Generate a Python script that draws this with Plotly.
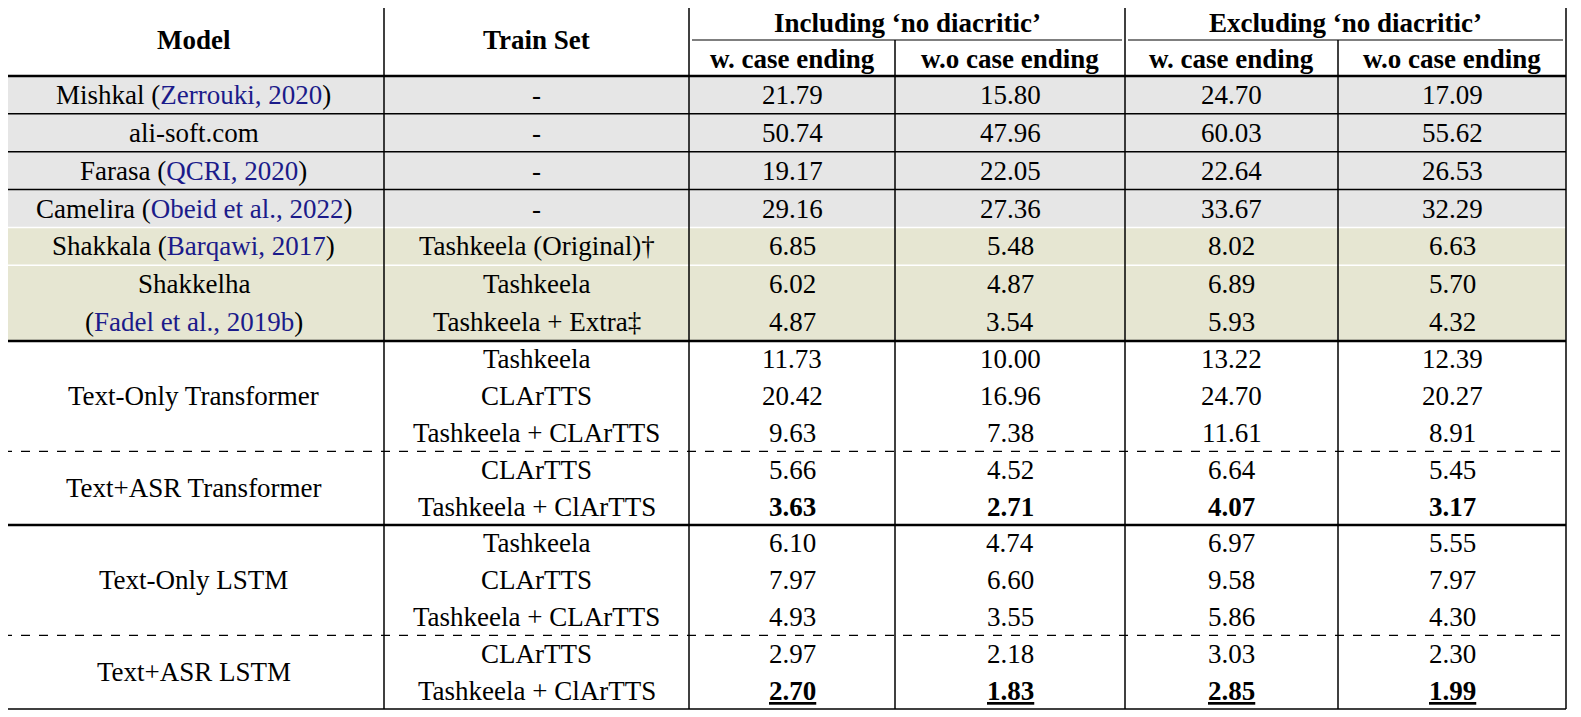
import plotly.graph_objects as go

# table content
train_sets = ["-", "-", "-", "-", "Tashkeela (Original)†", "Tashkeela", "Tashkeela + Extra‡",
              "Tashkeela", "CLArTTS", "Tashkeela + CLArTTS",
              "CLArTTS", "Tashkeela + ClArTTS",
              "Tashkeela", "CLArTTS", "Tashkeela + CLArTTS",
              "CLArTTS", "Tashkeela + ClArTTS"]
inc_case = ["21.79", "50.74", "19.17", "29.16", "6.85", "6.02", "4.87", "11.73", "20.42", "9.63",
            "5.66", "3.63", "6.10", "7.97", "4.93", "2.97", "2.70"]
inc_nocase = ["15.80", "47.96", "22.05", "27.36", "5.48", "4.87", "3.54", "10.00", "16.96", "7.38",
              "4.52", "2.71", "4.74", "6.60", "3.55", "2.18", "1.83"]
exc_case = ["24.70", "60.03", "22.64", "33.67", "8.02", "6.89", "5.93", "13.22", "24.70", "11.61",
            "6.64", "4.07", "6.97", "9.58", "5.86", "3.03", "2.85"]
exc_nocase = ["17.09", "55.62", "26.53", "32.29", "6.63", "5.70", "4.32", "12.39", "20.27", "8.91",
              "5.45", "3.17", "5.55", "7.97", "4.30", "2.30", "1.99"]
bold_rows = [11, 16]
under_rows = [16]

LINK = "#1b1b8a"
def cite(name, ref):
    return f"{name} (<span style='color:{LINK}'>{ref}</span>)"

# model label, first row, last row
models = [
    (cite("Mishkal", "Zerrouki, 2020"), 0, 0),
    ("ali-soft.com", 1, 1),
    (cite("Farasa", "QCRI, 2020"), 2, 2),
    (cite("Camelira", "Obeid et al., 2022"), 3, 3),
    (cite("Shakkala", "Barqawi, 2017"), 4, 4),
    ("Shakkelha", 5, 5),
    (f"(<span style='color:{LINK}'>Fadel et al., 2019b</span>)", 6, 6),
    ("Text-Only Transformer", 7, 9),
    ("Text+ASR Transformer", 10, 11),
    ("Text-Only LSTM", 12, 14),
    ("Text+ASR LSTM", 15, 16),
]

# geometry (page offsets the plot by ~8px, so the axis range starts at 8)
OFF = 8
xs = [3, 384, 689, 895, 1125, 1338, 1566]
top, mid, hdr = 3, 40, 76
split = 341
bottom = 709
up_h = (split - hdr) / 7
lo_h = (bottom - split) / 10

def row_top(i):
    return hdr + i * up_h if i < 7 else split + (i - 7) * lo_h

def row_bot(i):
    if i == 6:
        return split
    if i == 16:
        return bottom
    return row_top(i + 1)

FONT = dict(family="Liberation Serif", size=27, color="black")
shapes, ann = [], []

def text(x, y, s, bold=False, under=False):
    f = dict(FONT)
    if under:
        f["lineposition"] = "under"
    ann.append(dict(x=x, y=y, text=f"<b>{s}</b>" if bold else s, showarrow=False,
                    xref="x", yref="y", font=f, xanchor="center", yanchor="middle"))

def line(x0, y0, x1, y1, w=1.2, dash="solid", color="black"):
    shapes.append(dict(type="line", x0=x0, y0=y0, x1=x1, y1=y1, xref="x", yref="y",
                       line=dict(color=color, width=w, dash=dash)))

# backgrounds
shapes.append(dict(type="rect", x0=xs[0], x1=xs[-1], y0=hdr, y1=row_top(4), fillcolor="#e6e6e6",
                   line_width=0, layer="below"))
shapes.append(dict(type="rect", x0=xs[0], x1=xs[-1], y0=row_top(4), y1=split, fillcolor="#e6e6d2",
                   line_width=0, layer="below"))
for i in range(1, 6):
    line(xs[0], row_top(i), xs[-1], row_top(i), w=1.5, color="black" if i < 4 else "white")

# header
text((xs[0] + xs[1]) / 2, (top + hdr) / 2, "Model", bold=True)
text((xs[1] + xs[2]) / 2, (top + hdr) / 2, "Train Set", bold=True)
text((xs[2] + xs[4]) / 2, (top + mid) / 2 + 1, "Including ‘no diacritic’", bold=True)
text((xs[4] + xs[6]) / 2, (top + mid) / 2 + 1, "Excluding ‘no diacritic’", bold=True)
sub = ["w. case ending", "w.o case ending", "w. case ending", "w.o case ending"]
for k, s in enumerate(sub):
    text((xs[2 + k] + xs[3 + k]) / 2, (mid + hdr) / 2 + 1, s, bold=True)

# body
cols = [train_sets, inc_case, inc_nocase, exc_case, exc_nocase]
for i in range(17):
    yc = (row_top(i) + row_bot(i)) / 2
    for c, arr in enumerate(cols):
        b = c > 0 and i in bold_rows
        u = c > 0 and i in under_rows
        text((xs[1 + c] + xs[2 + c]) / 2, yc, arr[i], bold=b, under=u)
for label, r0, r1 in models:
    yc = (row_top(r0) + row_bot(r1)) / 2
    text((xs[0] + xs[1]) / 2, yc, label)

# rules
line(xs[0], top, xs[-1], top, w=1.5)
line(xs[2] + 3, mid, xs[4] - 3, mid)
line(xs[4] + 3, mid, xs[6] - 3, mid)
line(xs[0], hdr, xs[-1], hdr, w=2.5)
line(xs[0], split, xs[-1], split, w=2.5)
line(xs[0], row_top(10), xs[-1], row_top(10), dash="dash")
line(xs[0], row_top(12), xs[-1], row_top(12), w=2.5)
line(xs[0], row_top(15), xs[-1], row_top(15), dash="dash")
line(xs[0], bottom, xs[-1], bottom, w=1.5)
for k, x in enumerate(xs):
    y0 = mid if k in (3, 5) else top
    line(x, y0, x, bottom, w=1.5)

fig = go.Figure()
fig.update_layout(width=1581, height=717, margin=dict(l=0, r=0, t=0, b=0),
                  plot_bgcolor="white", paper_bgcolor="white",
                  xaxis=dict(range=[OFF, 1581 + OFF], visible=False, fixedrange=True),
                  yaxis=dict(range=[717 + OFF, OFF], visible=False, fixedrange=True),
                  shapes=shapes, annotations=ann, showlegend=False)
fig.write_html("out.html")
